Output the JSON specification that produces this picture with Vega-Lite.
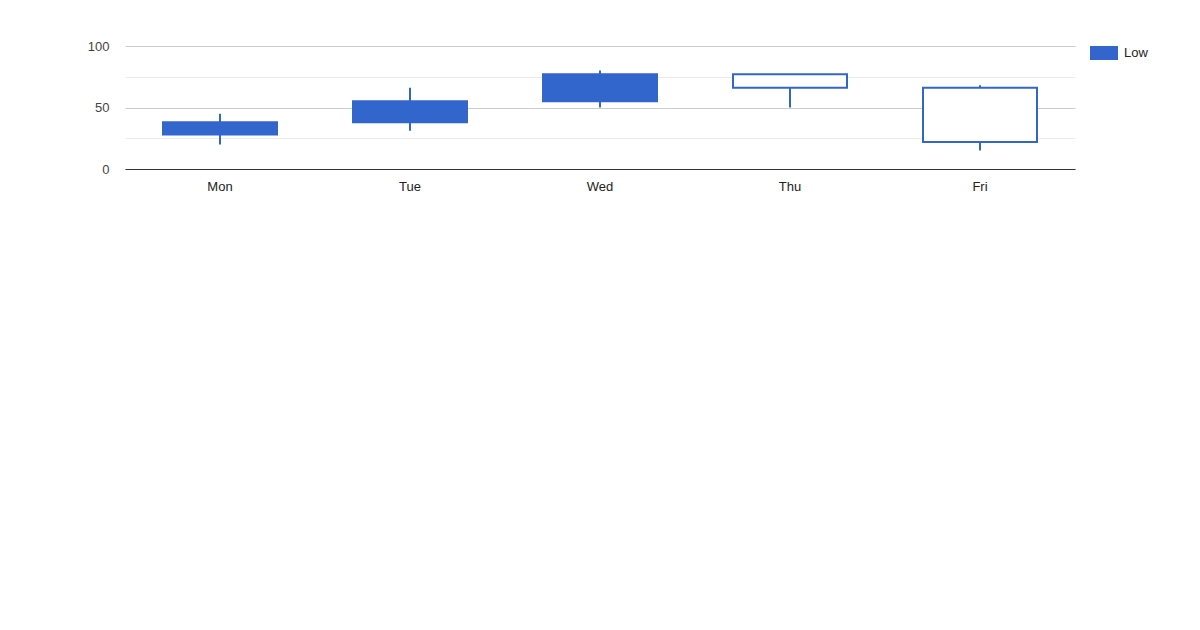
{
  "$schema": "https://vega.github.io/schema/vega-lite/v6.json",
  "autosize": "none",
  "width": 950,
  "height": 123,
  "padding": {"left": 125, "top": 46, "right": 125, "bottom": 461},
  "background": "white",
  "data": {
    "values": [
      {"day": "Mon", "Low": 20, "Open": 28, "Close": 38, "High": 45},
      {"day": "Tue", "Low": 31, "Open": 38, "Close": 55, "High": 66},
      {"day": "Wed", "Low": 50, "Open": 55, "Close": 77, "High": 80},
      {"day": "Thu", "Low": 77, "Open": 77, "Close": 66, "High": 50},
      {"day": "Fri", "Low": 68, "Open": 66, "Close": 22, "High": 15}
    ]
  },
  "config": {
    "view": {"stroke": null},
    "font": "Liberation Sans",
    "axis": {"labelFont": "Liberation Sans", "labelFontSize": 13, "labelColor": "#444", "title": null}
  },
  "encoding": {
    "x": {
      "field": "day",
      "type": "nominal",
      "sort": null,
      "scale": {"paddingInner": 0, "paddingOuter": 0},
      "axis": {
        "labelAngle": 0,
        "ticks": false,
        "domainColor": "#333",
        "domainWidth": 1,
        "labelPadding": 11,
        "labelColor": "#222"
      }
    }
  },
  "resolve": {"axis": {"y": "independent"}},
  "layer": [
    {
      "mark": {"type": "rule", "strokeWidth": 2},
      "encoding": {
        "y": {
          "field": "Low",
          "type": "quantitative",
          "scale": {"domain": [0, 100], "nice": false},
          "axis": {
            "orient": "left",
            "values": [0, 50, 100],
            "gridColor": "#cccccc",
            "ticks": false,
            "domain": false,
            "labelPadding": 16
          }
        },
        "y2": {"field": "High"},
        "color": {
          "datum": "Low",
          "type": "nominal",
          "scale": {"range": ["#3366cc"]},
          "legend": {
            "title": null,
            "orient": "none",
            "legendX": 965,
            "legendY": -7,
            "symbolType": "M-1,-0.5H1V0.5H-1Z",
            "symbolSize": 784,
            "symbolFillColor": "#3366cc",
            "symbolStrokeWidth": 0,
            "labelFont": "Liberation Sans",
            "labelFontSize": 13,
            "labelColor": "#222",
            "labelOffset": 6,
            "padding": 0
          }
        }
      }
    },
    {
      "mark": {"type": "bar", "size": 114, "stroke": "#3366cc", "strokeWidth": 2},
      "encoding": {
        "y": {
          "field": "Open",
          "type": "quantitative",
          "axis": {
            "orient": "left",
            "values": [25, 75],
            "grid": true,
            "gridColor": "#ebebeb",
            "labels": false,
            "ticks": false,
            "domain": false
          }
        },
        "y2": {"field": "Close"},
        "fill": {
          "condition": {"test": "datum.Open < datum.Close", "value": "#3366cc"},
          "value": "white"
        }
      }
    }
  ]
}
